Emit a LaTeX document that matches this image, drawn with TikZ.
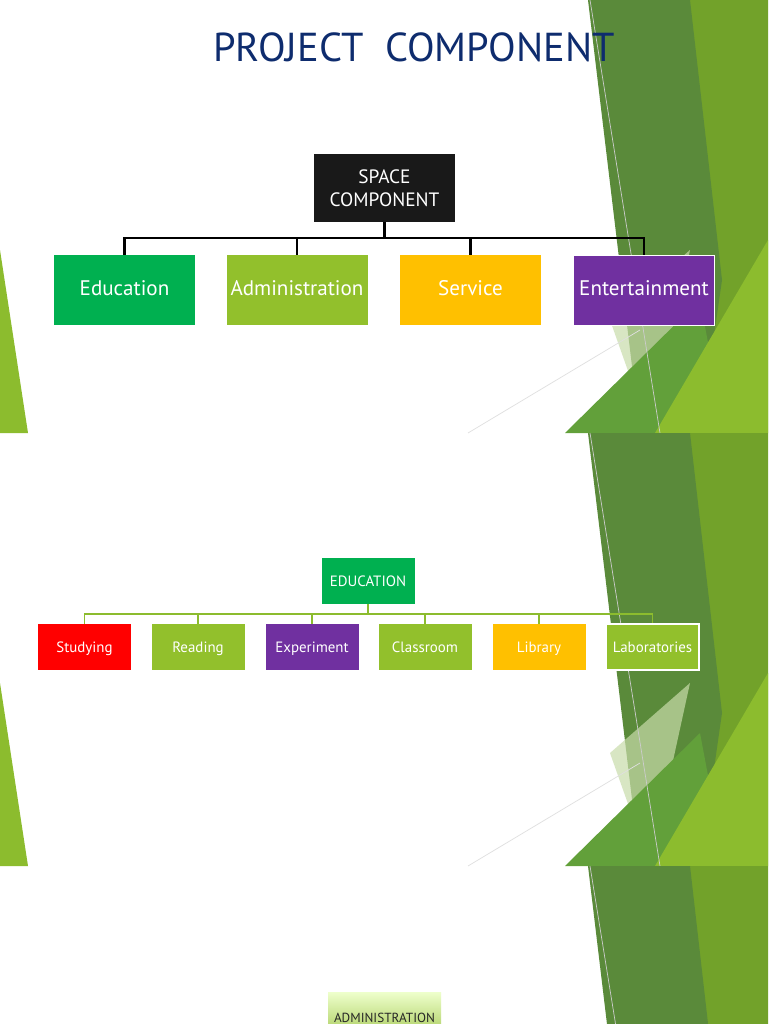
\documentclass[tikz,border=0pt]{standalone}
\usepackage{fontspec}
\setmainfont{PT Sans}
\begin{document}
\begin{tikzpicture}[x={(0.02cm,0)},y={(0,-0.02cm)},
  big/.style={draw=none,minimum width=141*0.02cm,minimum height=70*0.02cm,text=white,font=\fontsize{12}{14}\selectfont,inner sep=0pt,text height=1.5ex,text depth=0.35ex},
  small/.style={minimum width=93*0.02cm,minimum height=46*0.02cm,text=white,font=\fontsize{8.5}{10}\selectfont,inner sep=0pt,text height=1.5ex,text depth=0.35ex},
  conn/.style={line width=1.6pt,black},
  gconn/.style={line width=0.7pt,draw=lgreen}]
\definecolor{dgreen}{HTML}{5A8A3A}
\definecolor{mgreen}{HTML}{72A22A}
\definecolor{lgreen}{HTML}{8CBC2E}
\definecolor{ggreen}{HTML}{62A03A}
\definecolor{pgreen}{HTML}{C8DCAA}
\definecolor{edu}{HTML}{00B050}
\definecolor{adm}{HTML}{92C02C}
\definecolor{srv}{HTML}{FFC000}
\definecolor{ent}{HTML}{7030A0}
\definecolor{ttl}{HTML}{0E2C6E}
\useasboundingbox (0,0) rectangle (768,1024);
\fill[white] (0,0) rectangle (768,1024);
\begin{scope}
\clip (0,0) rectangle (768,1024);
\foreach \o in {0,433,866}{
  \fill[mgreen] (688,\o) -- (768,\o) -- (768,\o+433) -- (700,\o+433) -- cycle;
  \fill[dgreen] (588,\o) -- (690,\o) -- (722,\o+280) -- (700,\o+433) -- (640,\o+433) -- cycle;
  \fill[pgreen,opacity=0.7] (610,\o+320) -- (690,\o+250) -- (650,\o+433) -- cycle;
  \fill[ggreen] (565,\o+433) -- (700,\o+300) -- (725,\o+433) -- cycle;
  \fill[lgreen] (655,\o+433) -- (768,\o+240) -- (768,\o+433) -- cycle;
  \fill[lgreen] (0,\o+250) -- (28,\o+433) -- (0,\o+433) -- cycle;
  \draw[gray!40,line width=0.4pt] (590,\o) -- (660,\o+433);
  \draw[gray!25,line width=0.4pt] (468,\o+433) -- (640,\o+330);
}
\end{scope}
% slide 1
\node[text=ttl,font=\fontsize{23}{26}\selectfont] (title) at (414,47) {PROJECT\ \ COMPONENT};
\node[big,fill=black!90,align=center,font=\fontsize{11}{13}\selectfont,text height=,text depth=,minimum height=68*0.02cm] (sc) at (384.5,188) {SPACE\\COMPONENT};
\node[big,fill=edu] (e) at (124.5,290) {Education};
\node[big,fill=adm] (a) at (297,290) {Administration};
\node[big,fill=srv] (s) at (470.5,290) {Service};
\node[big,fill=ent,draw=white,line width=0.5pt] (t) at (644,290) {Entertainment};
\coordinate (b1) at (384.5,238);
\draw[conn] (sc.south) -- (b1);
\draw[conn] (e.north) -- (e.north |- b1) -- (t.north |- b1) -- (t.north);
\draw[conn] (a.north) -- (a.north |- b1);
\draw[conn] (s.north) -- (s.north |- b1);
% slide 2
\node[small,fill=edu] (E) at (368,581) {EDUCATION};
\node[small,fill=red] (c1) at (84.5,647) {Studying};
\node[small,fill=adm] (c2) at (198,647) {Reading};
\node[small,fill=ent] (c3) at (312,647) {Experiment};
\node[small,fill=adm] (c4) at (425,647) {Classroom};
\node[small,fill=srv] (c5) at (539,647) {Library};
\node[small,fill=adm,draw=white,line width=0.6pt] (c6) at (652.5,647) {Laboratories};
\coordinate (b2) at (368,614);
\draw[gconn] (E.south) -- (b2);
\draw[gconn] (c1.north) -- (c1.north |- b2) -- (c6.north |- b2) -- (c6.north);
\foreach \c in {c2,c3,c4,c5}{\draw[gconn] (\c.north) -- (\c.north |- b2);}
% slide 3
\shade[top color=green!10!lime!20!white,bottom color=adm!70!white] (328,992) rectangle (441,1030);
\node[font=\fontsize{7.5}{8}\selectfont,text=black!85] (A) at (384.5,1018) {ADMINISTRATION};
\end{tikzpicture}
\end{document}
